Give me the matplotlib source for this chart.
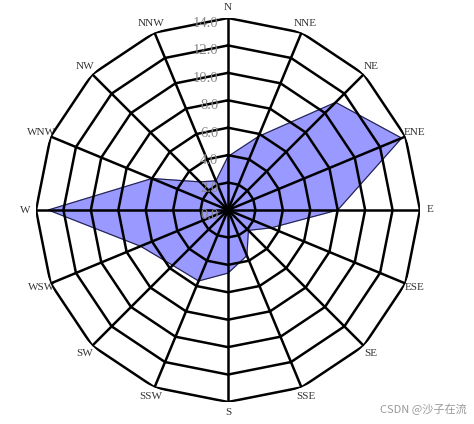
import matplotlib.pyplot as plt
import matplotlib.transforms as mtransforms
import numpy as np

directions = ["N", "NNE", "NE", "ENE", "E", "ESE", "SE", "SSE",
              "S", "SSW", "SW", "WSW", "W", "WNW", "NW", "NNW"]
values = [3.9, 5.8, 11.1, 13.7, 8.0, 3.4, 2.1, 3.6,
          4.6, 5.6, 5.7, 6.9, 13.1, 6.0, 2.9, 2.3]
rings = [2, 4, 6, 8, 10, 12, 14]
ring_labels = ["0.0", "2.0", "4.0", "6.0", "8.0", "10.0", "12.0", "14.0"]

theta = np.deg2rad(np.arange(16) * 22.5)
th_closed = np.append(theta, theta[0])

fig = plt.figure(figsize=(4.74, 4.24), dpi=100)
ax = fig.add_axes([36 / 474, 22 / 424, 384 / 474, 384 / 424], projection="polar")
ax.set_theta_zero_location("N")
ax.set_theta_direction(-1)
ax.set_ylim(0, 14)
ax.grid(False)
ax.spines["polar"].set_visible(False)
ax.set_xticks([])
ax.set_yticks([])

# data polygon
vals_closed = np.append(values, values[0])
ax.fill(th_closed, vals_closed, color="#9999ff", zorder=2)
ax.plot(th_closed, vals_closed, color="#222244", lw=0.8, zorder=3)

# polygon grid
for r in rings:
    ax.plot(th_closed, [r] * 17, color="black", lw=1.8, zorder=4)
for t in theta:
    ax.plot([t, t], [0, 14], color="black", lw=1.8, zorder=4)
ax.plot([0], [0], "o", color="black", ms=6, zorder=5)

serif = ["Liberation Serif", "DejaVu Serif"]
for t, d in zip(theta, directions):
    ax.text(t, 14.75, d, ha="center", va="center", fontsize=8, family=serif, color="#333333")

off = mtransforms.offset_copy(ax.transData, fig=fig, x=-7, y=-4, units="points")
for r, lab in zip([0] + rings, ring_labels):
    ax.text(0, r, lab, transform=off, ha="right", va="center", fontsize=10.5,
            family=serif, color="#888888", zorder=6)

fig.text(0.985, 0.02, "CSDN @沙子在流", ha="right", va="bottom", fontsize=8,
         color="#999999", family=["Noto Sans CJK SC", "DejaVu Sans"])

fig.savefig("out.png", dpi=100)
